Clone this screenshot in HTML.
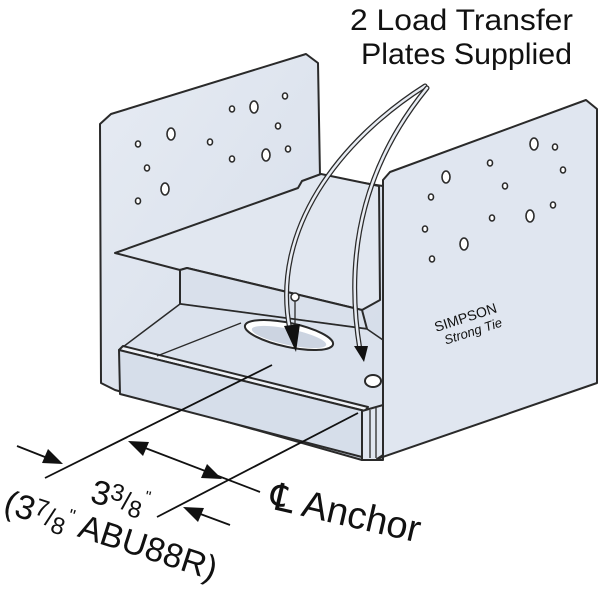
<!DOCTYPE html>
<html><head><meta charset="utf-8"><style>
html,body{margin:0;padding:0;background:#fff;width:600px;height:600px;overflow:hidden}
svg{display:block}
text{font-family:"Liberation Sans",sans-serif;fill:#111}
</style></head><body>
<svg width="600" height="600" viewBox="0 0 600 600" xmlns="http://www.w3.org/2000/svg">
<defs>
<linearGradient id="g" x1="0" y1="0" x2="1" y2="1">
<stop offset="0" stop-color="#e6ebf3"/><stop offset="1" stop-color="#d3dbe8"/>
</linearGradient>
</defs>
<g stroke="#2a2a2a" stroke-width="2" stroke-linejoin="round" fill="url(#g)">
<path d="M100,124 L111,114 L306,54 L318,63 L320,176 L383,186 L383,457 L362,460 L115,390 L101,383 Z"/>
<path d="M115,253 L298,188 L302,181 L321,174 L379,186 L380,300 L362,310 L187,268 L180,270 Z" fill="#e1e7f0"/>
<path d="M180,270 L187,268 L362,310 L367,329 L180,304 Z" fill="#d9e0eb"/>
<path d="M180,304 L367,329 L383,340 L383,457 L365,411 L119,350 Z" fill="#dbe2ed" stroke-width="1.5"/>
<path d="M119,350 L123,346 L368,407 L365,411 Z" fill="#f0f3f8"/>
<path d="M119,350 L365,411 L362,457 L120,394 Z" fill="#d6deea"/>
<path d="M362,411 L383,405 L383,460 L362,460 Z" fill="#e0e6f0"/>
<path d="M383,180 L390,172 L586,100 L597,109 L597,383 L377,459 L383,455 Z" fill="#e0e6f0"/>
</g>
<g stroke="#2a2a2a" stroke-width="1.3" fill="none">
<line x1="241" y1="323" x2="157" y2="356"/>
<line x1="295" y1="297" x2="295" y2="328"/>
<line x1="187" y1="268" x2="362" y2="310"/>
<line x1="370" y1="410" x2="370" y2="458"/>
<line x1="376" y1="408" x2="376" y2="458"/>
</g>
<ellipse cx="289" cy="335" rx="45" ry="12" transform="rotate(12 289 335)" fill="#fff" stroke="#2a2a2a" stroke-width="2"/>
<ellipse cx="289" cy="337" rx="38" ry="8" transform="rotate(12 289 337)" fill="#ccd4e1" stroke="none"/>
<ellipse cx="373" cy="381" rx="8" ry="6" fill="#fff" stroke="#2a2a2a" stroke-width="2"/>
<circle cx="295" cy="297" r="4" fill="#fff" stroke="#2a2a2a" stroke-width="1.5"/>
<g fill="#fff" stroke="#2a2a2a" stroke-width="1.6">
<ellipse cx="232" cy="109" rx="2.5" ry="3"/><ellipse cx="254" cy="107" rx="4" ry="6"/><ellipse cx="285" cy="96" rx="2.5" ry="3"/>
<ellipse cx="171" cy="134" rx="4" ry="6"/><ellipse cx="138" cy="144" rx="2.5" ry="3"/><ellipse cx="210" cy="142" rx="2.5" ry="3"/>
<ellipse cx="278" cy="126" rx="2.5" ry="3"/><ellipse cx="288" cy="149" rx="2.5" ry="3"/><ellipse cx="266" cy="155" rx="4" ry="6"/>
<ellipse cx="232" cy="159" rx="2.5" ry="3"/><ellipse cx="147" cy="168" rx="2.5" ry="3"/><ellipse cx="165" cy="189" rx="4" ry="6"/>
<ellipse cx="138" cy="201" rx="2.5" ry="3"/>
<ellipse cx="534" cy="144" rx="4" ry="6"/><ellipse cx="555" cy="147" rx="2.5" ry="3"/><ellipse cx="490" cy="163" rx="2.5" ry="3"/>
<ellipse cx="563" cy="170" rx="2.5" ry="3"/><ellipse cx="446" cy="177" rx="4" ry="6"/><ellipse cx="505" cy="186" rx="2.5" ry="3"/>
<ellipse cx="431" cy="197" rx="2.5" ry="3"/><ellipse cx="553" cy="205" rx="2.5" ry="3"/><ellipse cx="492" cy="218" rx="2.5" ry="3"/>
<ellipse cx="530" cy="216" rx="4" ry="6"/><ellipse cx="425" cy="229" rx="2.5" ry="3"/><ellipse cx="464" cy="244" rx="4" ry="6"/>
<ellipse cx="432" cy="259" rx="2.5" ry="3"/>
</g>
<g fill="none" stroke-linecap="round">
<path d="M425,86 C340,140 270,230 290,330" stroke="#2a2a2a" stroke-width="5"/>
<path d="M425,86 C340,140 270,230 290,330" stroke="#e8ecf3" stroke-width="2.5"/>
<path d="M427,88 C360,170 345,260 360,350" stroke="#2a2a2a" stroke-width="5"/>
<path d="M427,88 C360,170 345,260 360,350" stroke="#e8ecf3" stroke-width="2.5"/>
</g>
<polygon points="284,326 300,324 296,352" fill="#111"/>
<polygon points="354,346 368,346 364,362" fill="#111"/>
<g transform="rotate(-18 467 322)">
<text x="467" y="322" font-size="14" text-anchor="middle" fill="#333">SIMPSON</text>
<text x="470" y="337" font-size="13" font-style="italic" text-anchor="middle" fill="#333">Strong Tie</text>
</g>
<g stroke="#111" stroke-width="1.8" fill="none">
<line x1="45" y1="478" x2="272" y2="365"/>
<line x1="157" y1="517" x2="358" y2="413"/>
<line x1="17" y1="446" x2="50" y2="459"/>
<line x1="140" y1="446" x2="260" y2="492"/>
<line x1="195" y1="512" x2="230" y2="525"/>
</g>
<g fill="#111">
<polygon points="63,464 42,463 48,449"/>
<polygon points="128,441 149,442 143,456"/>
<polygon points="222,479 201,478 207,464"/>
<polygon points="183,507 204,508 198,522"/>
</g>
<text x="350" y="30" font-size="30" textLength="223" lengthAdjust="spacingAndGlyphs">2 Load Transfer</text>
<text x="361" y="64" font-size="30" textLength="211" lengthAdjust="spacingAndGlyphs">Plates Supplied</text>
<text transform="translate(89,502) rotate(14)" font-size="34">3<tspan font-size="24" dy="-8">3</tspan><tspan font-size="26" dy="7">/</tspan><tspan font-size="24" dy="5">8</tspan><tspan font-size="16" dy="-18">"</tspan></text>
<text transform="translate(2,512) rotate(18)" font-size="34">(3<tspan font-size="24" dy="-8">7</tspan><tspan font-size="26" dy="7">/</tspan><tspan font-size="24" dy="5">8</tspan><tspan font-size="18" dy="-16">"</tspan><tspan dy="12"> ABU88R)</tspan></text>
<text transform="translate(268,508) rotate(13)" font-size="38">℄ Anchor</text>
</svg>
</body></html>
